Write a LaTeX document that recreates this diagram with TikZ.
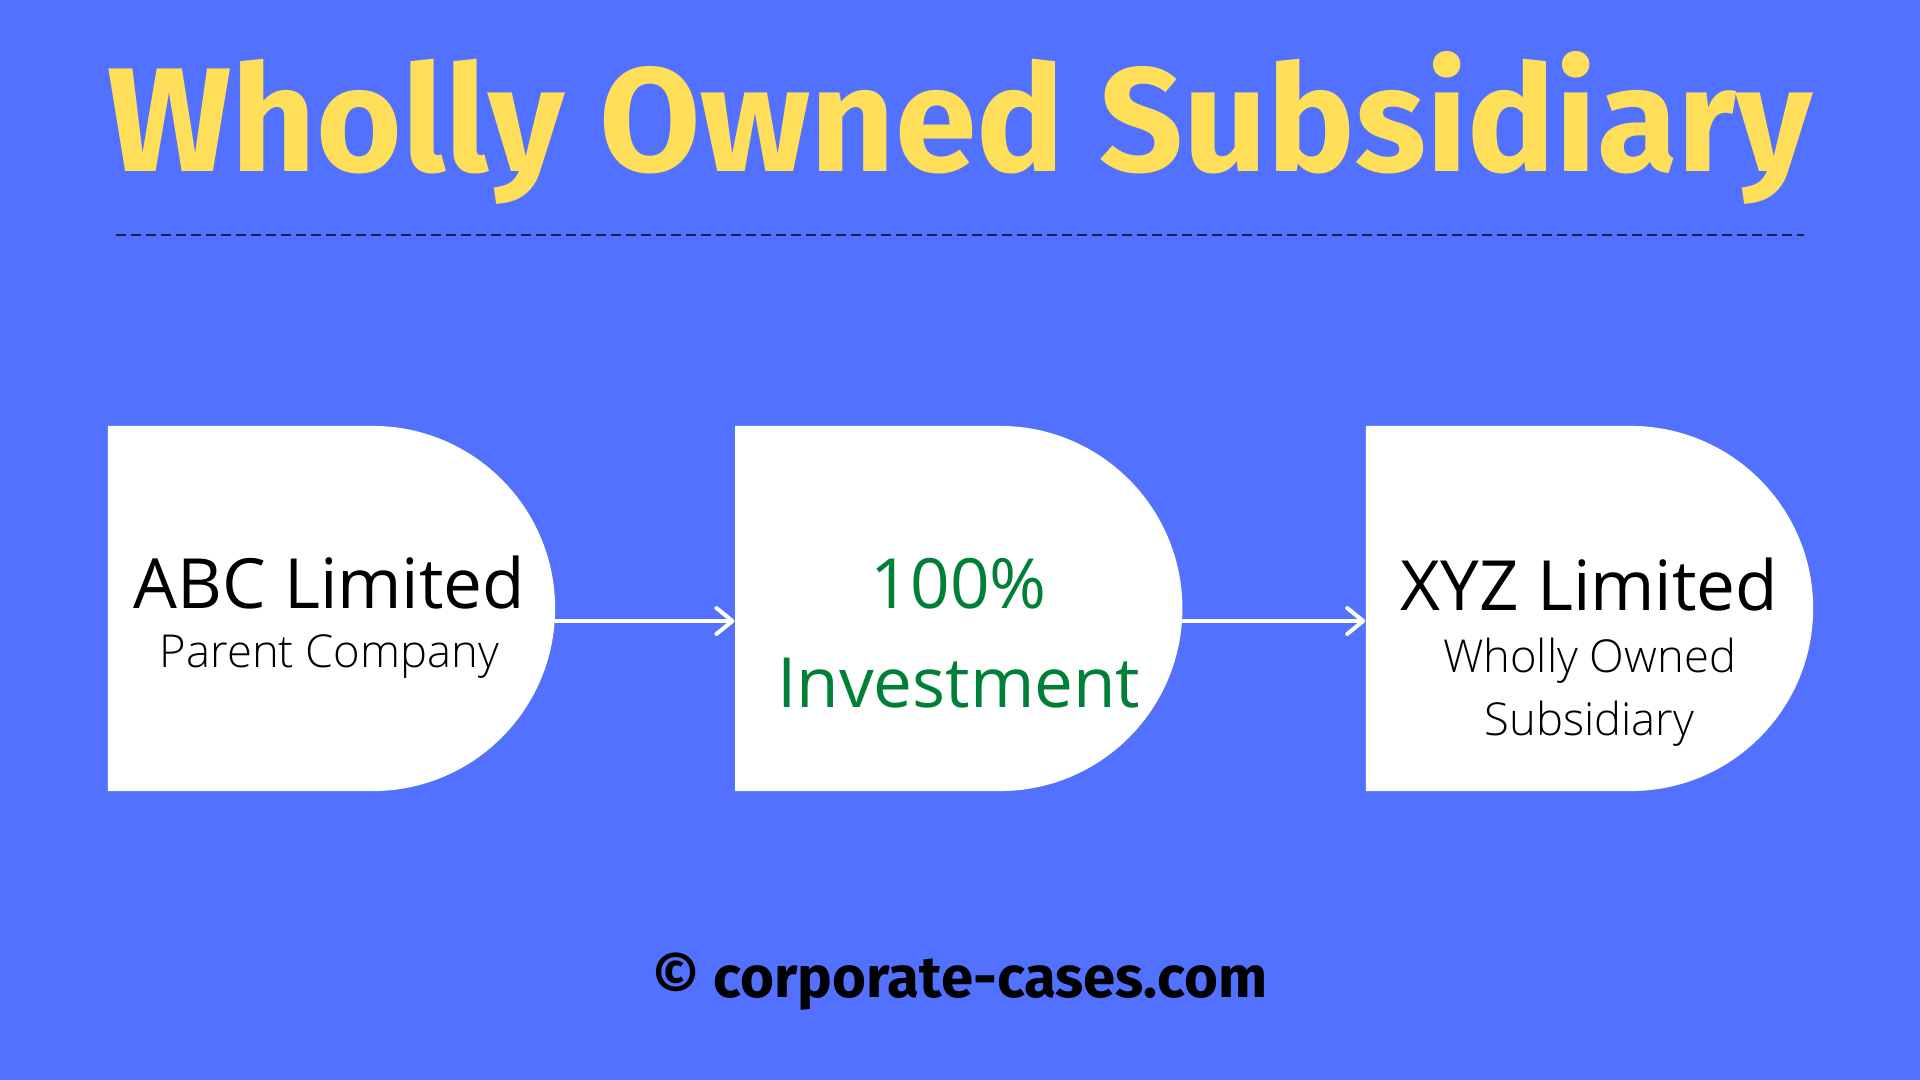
\documentclass[tikz,border=0pt]{standalone}
\usepackage{fontspec}
\setmainfont{Open Sans}
\newfontfamily\lightsans{Open Sans Light}
\newfontfamily\headfont{Fira Sans}
\usetikzlibrary{positioning,shapes.misc,arrows.meta}
\definecolor{bgblue}{HTML}{5271FF}
\definecolor{headyellow}{HTML}{FFDE59}
\definecolor{investgreen}{HTML}{008037}
\definecolor{rulenavy}{HTML}{1E1E4A}
\begin{document}
\begin{tikzpicture}[x=0.01cm, y=-0.01cm,
        dbox/.style={rounded rectangle, rounded rectangle left arc=none, fill=white,
            minimum width=4.47cm, minimum height=3.65cm, inner sep=0pt},
        bigtext/.style={anchor=base, inner sep=0pt, font=\fontsize{19.7}{24}\selectfont},
        smalltext/.style={anchor=base, inner sep=0pt, font=\lightsans\fontsize{12.9}{16}\selectfont},
        link/.style={draw=white, line width=0.04cm, line cap=round,
            -{Straight Barb[length=0.16cm, width=0.26cm, line cap=round, line join=round]}},
        rule/.style={draw=rulenavy, line width=0.02cm, dash pattern=on 0.1cm off 0.05cm}
    ]
    \fill[bgblue] (0,0) rectangle (1920,1080);
    \useasboundingbox (0,0) rectangle (1920,1080);
    % heading and rule
    \node[anchor=base, inner sep=0pt, text=headyellow] (heading) at (960,172)
        {\resizebox{17.04cm}{1.20cm}{\headfont\bfseries Wholly Owned Subsidiary}};
    \coordinate (rulel) at (116,235);
    \coordinate (ruler) at (1804,235);
    \draw[rule] (rulel) -- (ruler);
    % the three boxes
    \node[dbox] (abc) at (331.5,608.5) {};
    \node[dbox, right=1.785cm of abc] (invest) {};
    \node[dbox, right=1.82cm of invest] (xyz) {};
    \node[bigtext] (abcname) at ([xshift=-0.02cm]abc.center) {ABC Limited};
    \node[smalltext] (abcrole) at ([yshift=-0.585cm]abcname.base) {Parent Company};
    \node[bigtext, text=investgreen] (share) at (invest.center) {100\%};
    \node[bigtext, text=investgreen] (sharetype) at ([yshift=-0.985cm]share.base) {Investment};
    \node[bigtext] (xyzname) at ([yshift=-0.025cm]xyz.center) {XYZ Limited};
    \node[smalltext] (xyzrole) at ([yshift=-0.61cm]xyzname.base) {Wholly Owned};
    \node[smalltext] (xyzrolb) at ([yshift=-0.63cm]xyzrole.base) {Subsidiary};
    % connectors
    \draw[link] ([yshift=-0.125cm]abc.east) -- ([yshift=-0.125cm]invest.west);
    \draw[link] ([yshift=-0.125cm]invest.east) -- ([yshift=-0.125cm]xyz.west);
    % footer
    \node[anchor=base, inner sep=0pt] (footer) at (960,998)
        {\resizebox{6.14cm}{!}{\headfont\bfseries \textcopyright{} corporate-cases.com}};
\end{tikzpicture}
\end{document}
